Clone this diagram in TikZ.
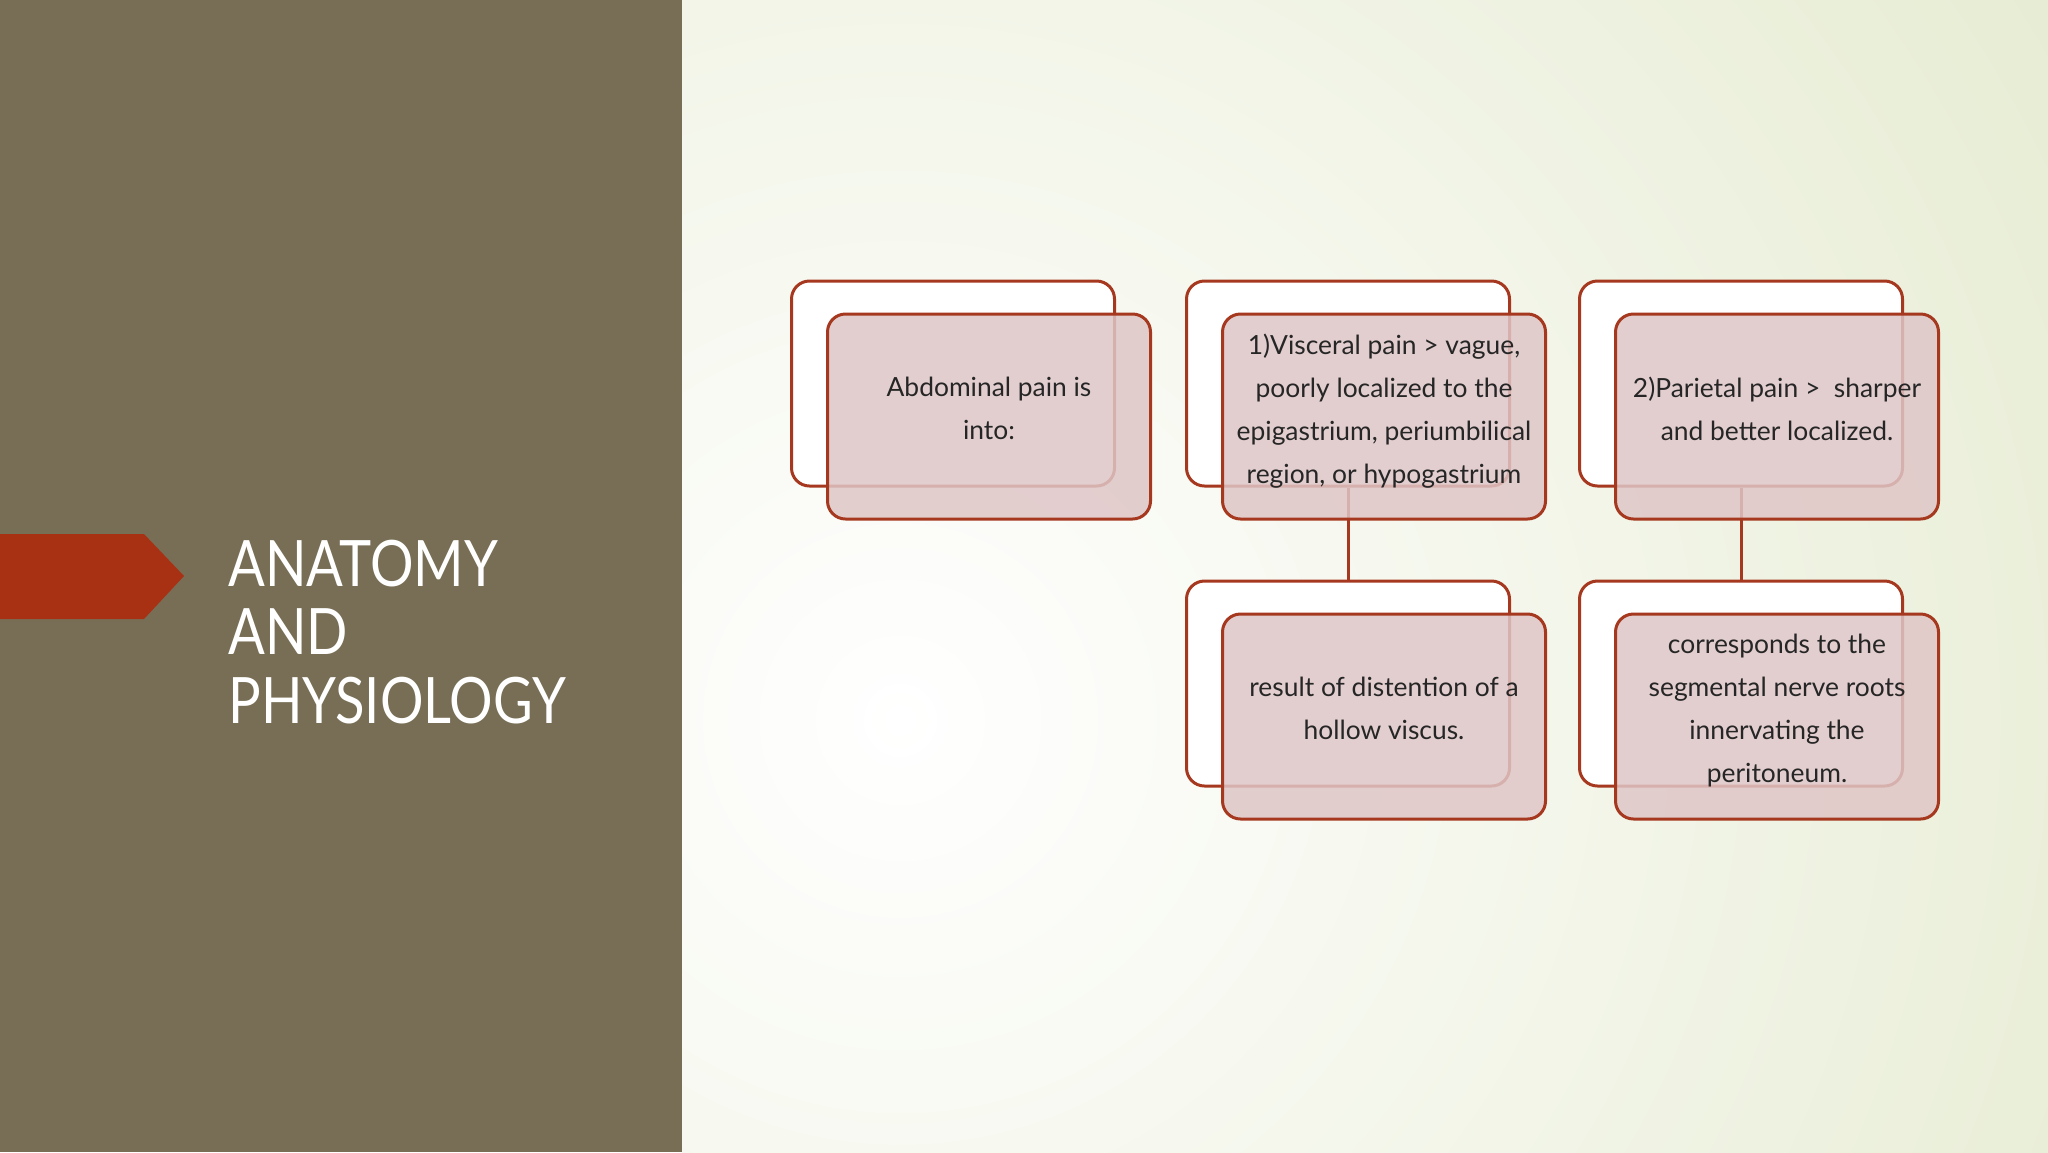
\documentclass[tikz,border=0pt]{standalone}
\usepackage{fontspec}
\setmainfont{Lato}
\newfontfamily\titlefont{Lato}[FakeStretch=0.85]
\usetikzlibrary{positioning,calc}
\definecolor{panelolive}{RGB}{120,110,85}
\definecolor{arrowred}{RGB}{168,48,19}
\definecolor{boxline}{RGB}{165,56,30}
\definecolor{boxpink}{RGB}{223,198,199}
\definecolor{bgouter}{RGB}{216,225,185}
\definecolor{textdark}{RGB}{38,38,38}

\begin{document}
\begin{tikzpicture}[x=0.5pt,y=-0.5pt,
    backbox/.style={draw=boxline,line width=1.5pt,rounded corners=9pt,fill=white,
      minimum width=161.5pt,minimum height=102.5pt,inner sep=0pt},
    frontbox/.style={backbox,fill=boxpink,fill opacity=0.85,text opacity=1,text=textdark,
      font=\fontsize{13.2}{21.5}\selectfont,align=center,text depth=8pt},
    link/.style={draw=boxline,line width=1.5pt}]
    \useasboundingbox (0,0) rectangle (2048,1152);
    % slide background
    \begin{scope}
      \clip (682,0) rectangle (2048,1152);
      \shade[inner color=white,outer color=bgouter] (-1300,-1480) rectangle (3100,2920);
    \end{scope}
    \fill[panelolive] (0,0) rectangle (682,1152);
    \fill[arrowred] (0,534) -- (144,534) -- (184,576) -- (144,619) -- (0,619) -- cycle;
    \node (title) [anchor=west,align=left,text=white,inner sep=0pt,
      font=\titlefont\fontsize{32}{34.25}\selectfont] at (228,632) {ANATOMY\\AND\\PHYSIOLOGY};

    % back boxes
    \node (b1) [backbox] at (953,383.5) {};
    \node (b2) [backbox,right=34.5pt of b1] {};
    \node (b3) [backbox,right=33.5pt of b2] {};
    \node (b4) [backbox,below=46pt of b2] {};
    \node (b5) [backbox,below=46pt of b3] {};
    \draw[link] (b2.south) -- (b4.north);
    \draw[link] (b3.south) -- (b5.north);

    % front boxes
    \node (f1) [frontbox] at ($(b1)+(36,33)$) {Abdominal pain is\\into:};
    \node (f2) [frontbox] at ($(b2)+(36,33)$) {1)Visceral pain > vague,\\poorly localized to the\\epigastrium, periumbilical\\region, or hypogastrium};
    \node (f3) [frontbox] at ($(b3)+(36,33)$) {2)Parietal pain >\ \ sharper\\and better localized.};
    \node (f4) [frontbox] at ($(b4)+(36,33)$) {result of distention of a\\hollow viscus.};
    \node (f5) [frontbox] at ($(b5)+(36,33)$) {corresponds to the\\segmental nerve roots\\innervating the\\peritoneum.};
  \end{tikzpicture}
\end{document}
